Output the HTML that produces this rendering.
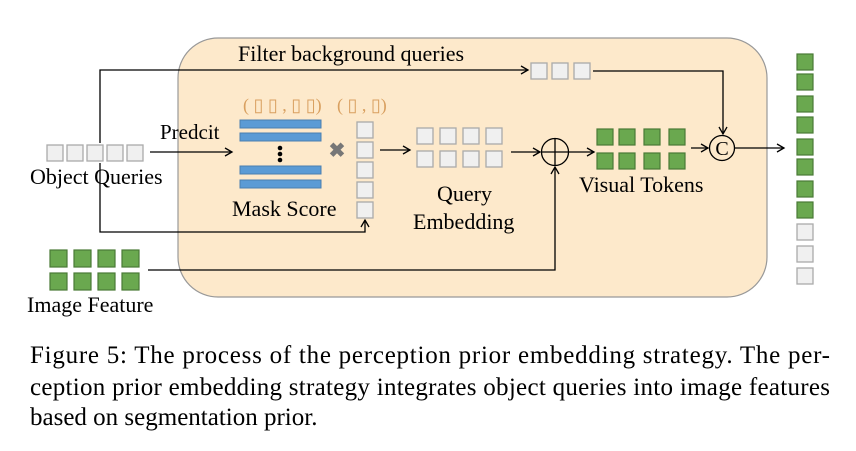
<!DOCTYPE html>
<html><head><meta charset="utf-8"><style>
html,body{margin:0;padding:0;background:#fff;}
svg{display:block;font-family:"Liberation Serif",serif;}
</style></head><body>
<svg width="856" height="451" viewBox="0 0 856 451" xmlns="http://www.w3.org/2000/svg">
<defs>
<marker id="a" markerWidth="10" markerHeight="10" refX="8" refY="5" orient="auto" markerUnits="userSpaceOnUse">
<path d="M1,1 L8,5 L1,9" fill="none" stroke="#000" stroke-width="1.3"/></marker>
</defs>
<rect x="178" y="38" width="589" height="259" rx="40" fill="#fde9cb" stroke="#999" stroke-width="1.2"/>
<text x="238" y="61" font-size="22">Filter background queries</text>
<g fill="#f0f0f0" stroke="#aaa" stroke-width="1.3">
<rect x="531" y="63" width="16" height="16"/><rect x="552" y="63" width="16" height="16"/><rect x="574" y="63" width="16" height="16"/>
<rect x="47" y="145" width="16" height="16"/><rect x="67" y="145" width="16" height="16"/><rect x="87" y="145" width="16" height="16"/><rect x="107" y="145" width="16" height="16"/><rect x="127" y="145" width="16" height="16"/>
<rect x="357" y="122" width="16" height="16"/><rect x="357" y="142" width="16" height="16"/><rect x="357" y="162" width="16" height="16"/><rect x="357" y="182" width="16" height="16"/><rect x="357" y="202" width="16" height="16"/>
<rect x="417" y="128" width="16" height="16"/><rect x="440" y="128" width="16" height="16"/><rect x="463" y="128" width="16" height="16"/><rect x="486" y="128" width="16" height="16"/>
<rect x="417" y="151" width="16" height="16"/><rect x="440" y="151" width="16" height="16"/><rect x="463" y="151" width="16" height="16"/><rect x="486" y="151" width="16" height="16"/>
<rect x="797" y="224" width="16" height="16"/><rect x="797" y="246" width="16" height="16"/><rect x="797" y="268" width="16" height="16"/>
</g>
<g fill="#6aa84f" stroke="#4a7a36" stroke-width="1.2">
<rect x="50" y="250" width="17" height="17"/><rect x="74" y="250" width="17" height="17"/><rect x="98" y="250" width="17" height="17"/><rect x="122" y="250" width="17" height="17"/>
<rect x="50" y="273" width="17" height="17"/><rect x="74" y="273" width="17" height="17"/><rect x="98" y="273" width="17" height="17"/><rect x="122" y="273" width="17" height="17"/>
<rect x="597" y="129" width="16" height="16"/><rect x="619" y="129" width="16" height="16"/><rect x="644" y="129" width="16" height="16"/><rect x="669" y="129" width="16" height="16"/>
<rect x="597" y="153" width="16" height="16"/><rect x="619" y="153" width="16" height="16"/><rect x="644" y="153" width="16" height="16"/><rect x="669" y="153" width="16" height="16"/>
<rect x="797" y="54" width="16" height="16"/><rect x="797" y="74" width="16" height="16"/><rect x="797" y="96" width="16" height="16"/><rect x="797" y="117" width="16" height="16"/>
<rect x="797" y="139" width="16" height="16"/><rect x="797" y="159" width="16" height="16"/><rect x="797" y="181" width="16" height="16"/><rect x="797" y="202" width="16" height="16"/>
</g>
<g fill="#5b9bd5" stroke="#4a7fb0" stroke-width="1">
<rect x="240" y="120" width="81" height="8"/><rect x="240" y="133" width="81" height="8"/>
<rect x="240" y="166" width="81" height="8"/><rect x="240" y="180" width="81" height="8"/>
</g>
<circle cx="280" cy="148" r="2.3"/><circle cx="280" cy="154" r="2.3"/><circle cx="280" cy="160" r="2.3"/>
<text x="337" y="157" font-size="20" font-weight="bold" fill="#777" text-anchor="middle" font-family="Liberation Sans,sans-serif">✖</text>
<text x="243" y="111" font-size="18" fill="#d9a060">( ▯ ▯ , ▯ ▯)</text>
<text x="337" y="111" font-size="18" fill="#d9a060">( ▯ , ▯)</text>
<g fill="none" stroke="#000" stroke-width="1.3">
<path d="M100,143 V70 H528" marker-end="url(#a)"/>
<path d="M593,71 H723 V134" marker-end="url(#a)"/>
<path d="M150,152 H232" marker-end="url(#a)"/>
<path d="M100,163 V232 H365 V220" marker-end="url(#a)"/>
<path d="M380,150 H410" marker-end="url(#a)"/>
<path d="M511,152 H540" marker-end="url(#a)"/>
<path d="M569,152 H594" marker-end="url(#a)"/>
<path d="M148,270 H555 V167" marker-end="url(#a)"/>
<path d="M691,148 H708" marker-end="url(#a)"/>
<path d="M735,148 H784" marker-end="url(#a)"/>
<circle cx="555" cy="152" r="13.5"/><path d="M541.5,152 H568.5 M555,138.5 V165.5"/>
<circle cx="722" cy="148" r="12.5"/>
</g>
<text x="722" y="155" font-size="20" text-anchor="middle">C</text>
<text x="160" y="139" font-size="21">Predcit</text>
<text x="30" y="184" font-size="22">Object Queries</text>
<text x="232" y="216" font-size="22">Mask Score</text>
<text x="437" y="201" font-size="22">Query</text>
<text x="413" y="229" font-size="22">Embedding</text>
<text x="579" y="192" font-size="22">Visual Tokens</text>
<text x="27" y="312" font-size="22">Image Feature</text>
<text x="30" y="363" font-size="25" textLength="800" lengthAdjust="spacing">Figure 5: The process of the perception prior embedding strategy. The per-</text>
<text x="30" y="395" font-size="25" textLength="800" lengthAdjust="spacing">ception prior embedding strategy integrates object queries into image features</text>
<text x="30" y="425" font-size="25">based on segmentation prior.</text>
</svg>
</body></html>
